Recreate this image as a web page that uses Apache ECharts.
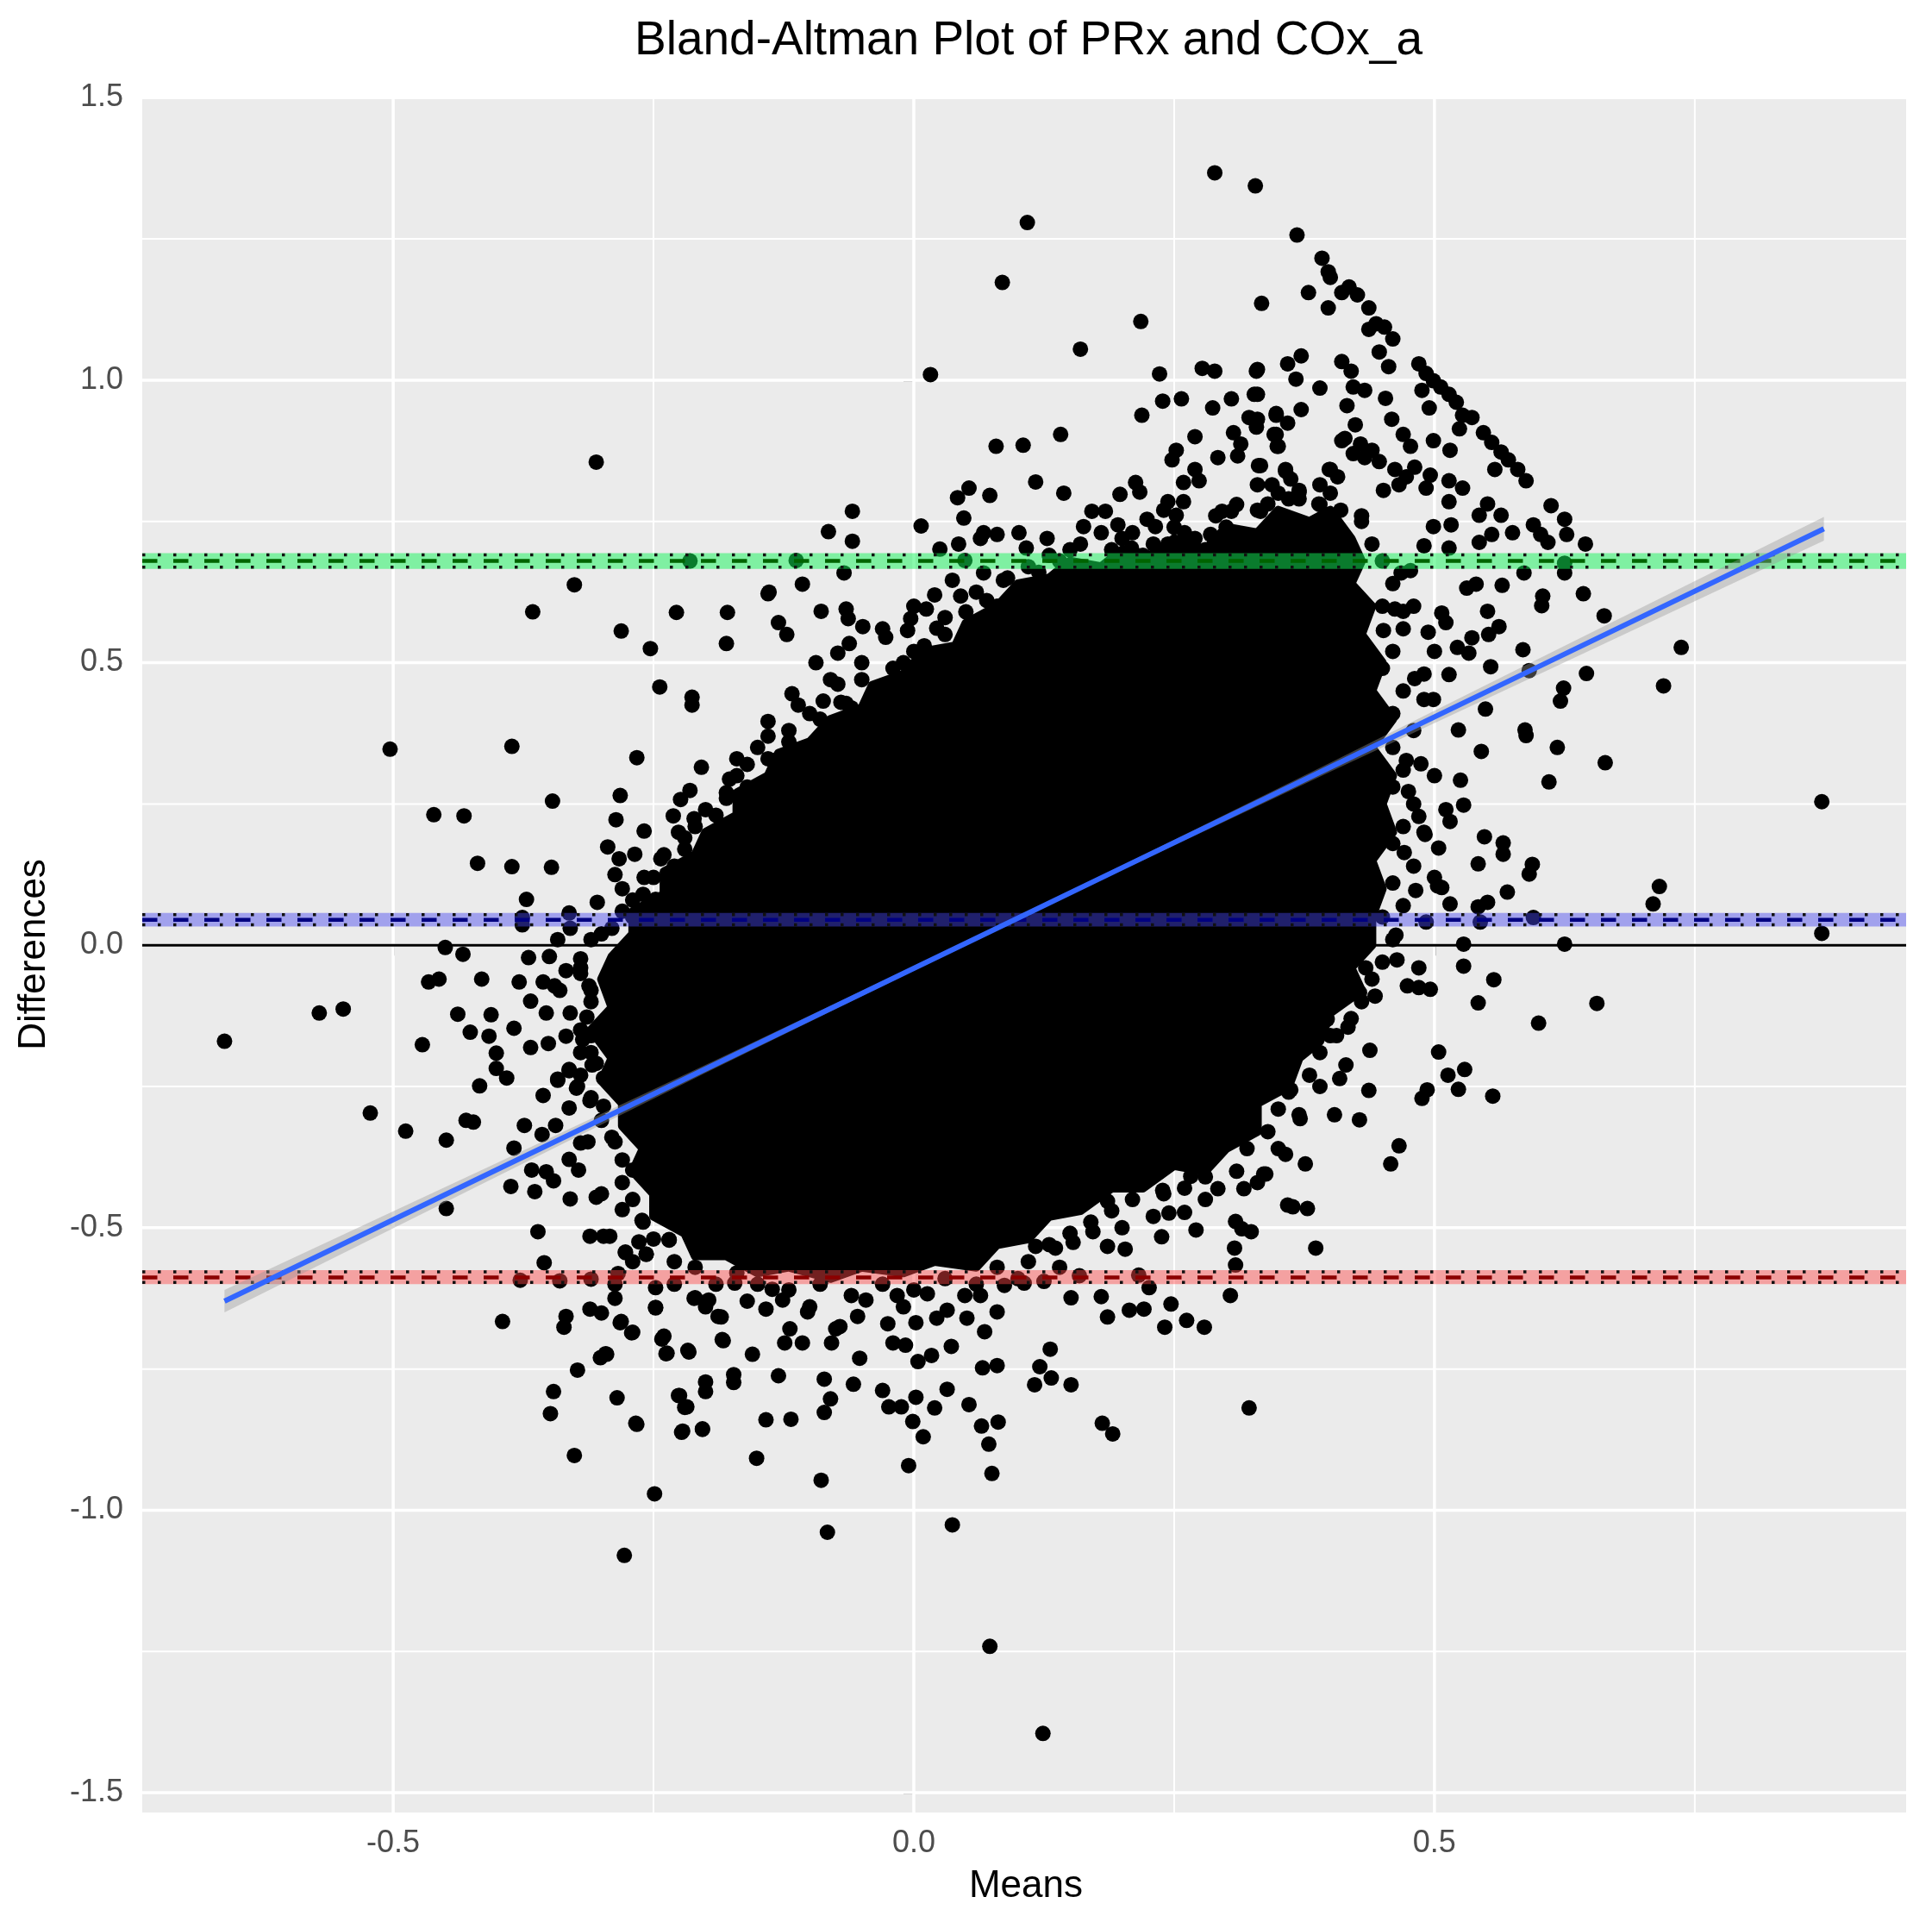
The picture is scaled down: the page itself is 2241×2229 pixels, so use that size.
<!DOCTYPE html>
<html>
<head>
<meta charset="utf-8">
<script src="https://cdn.jsdelivr.net/npm/echarts@6/dist/echarts.min.js"></script>
<style>
html,body{margin:0;padding:0;background:#fff;}
#chart{width:2241px;height:2229px;}
</style>
</head>
<body>
<div id="chart"></div>
<script>
// ---------------- data ----------------
const titleText = 'Bland-Altman Plot of PRx and COx_a';
const xName = 'Means';
const yName = 'Differences';

const xRange = [-0.741, 0.953];
const yRange = [-1.535, 1.502];
const xTicks = [-0.5, 0, 0.5];
const xMinorTicks = [-0.25, 0.25, 0.75];
const yTicks = [-1.5, -1, -0.5, 0, 0.5, 1, 1.5];
const yMinorTicks = [-1.25, -0.75, -0.25, 0.25, 0.75, 1.25];

// limits of agreement (upper, mean, lower) with their confidence bands
const bandCenter = [0.680, 0.045, -0.588];
const bandLow = [0.666, 0.033, -0.600];
const bandHigh = [0.694, 0.057, -0.575];

// regression of differences on means, with confidence ribbon
const regMeans = [-0.662, -0.40, -0.20, 0, 0.10, 0.20, 0.40, 0.60, 0.874];
const regFit = [-0.630, -0.397, -0.219, -0.041, 0.048, 0.137, 0.315, 0.493, 0.737];
const regLower = [-0.650, -0.409, -0.226, -0.045, 0.0445, 0.133, 0.307, 0.479, 0.716];
const regUpper = [-0.610, -0.385, -0.212, -0.037, 0.0515, 0.141, 0.323, 0.507, 0.758];

// ragged outline of the fully overplotted (solid black) centre of the cloud
const denseCloudOutline = [[0.08,0.60],[0.10,0.64],[0.13,0.65],[0.15,0.68],[0.18,0.67],[0.20,0.70],[0.23,0.69],[0.25,0.72],[0.28,0.70],[0.30,0.74],[0.33,0.73],[0.35,0.77],[0.38,0.75],[0.40,0.77],[0.42,0.72],[0.43,0.68],[0.42,0.64],[0.44,0.60],[0.43,0.55],[0.45,0.50],[0.44,0.45],[0.46,0.40],[0.44,0.35],[0.46,0.30],[0.45,0.25],[0.46,0.20],[0.44,0.15],[0.45,0.10],[0.44,0.05],[0.44,0.00],[0.42,-0.04],[0.43,-0.08],[0.40,-0.12],[0.39,-0.17],[0.37,-0.20],[0.36,-0.25],[0.33,-0.28],[0.33,-0.33],[0.30,-0.36],[0.28,-0.40],[0.25,-0.39],[0.22,-0.43],[0.19,-0.43],[0.16,-0.47],[0.13,-0.48],[0.11,-0.52],[0.08,-0.53],[0.06,-0.57],[0.02,-0.56],[-0.01,-0.58],[-0.05,-0.57],[-0.08,-0.59],[-0.12,-0.57],[-0.15,-0.58],[-0.18,-0.55],[-0.21,-0.55],[-0.22,-0.51],[-0.25,-0.48],[-0.25,-0.44],[-0.27,-0.40],[-0.26,-0.36],[-0.28,-0.32],[-0.28,-0.28],[-0.30,-0.24],[-0.29,-0.20],[-0.31,-0.15],[-0.29,-0.11],[-0.30,-0.06],[-0.29,-0.02],[-0.27,0.02],[-0.27,0.06],[-0.24,0.09],[-0.24,0.13],[-0.21,0.16],[-0.20,0.20],[-0.17,0.23],[-0.17,0.27],[-0.14,0.30],[-0.13,0.34],[-0.10,0.36],[-0.08,0.40],[-0.05,0.42],[-0.04,0.46],[-0.01,0.48],[0.01,0.52],[0.04,0.53],[0.05,0.57]];

// individual points [mean, difference]
const ptsLeft = [[-0.326,0.638],[-0.366,0.590],[-0.228,0.589],[-0.179,0.589],[-0.281,0.556],[-0.253,0.525],[-0.180,0.534],[-0.244,0.457],[-0.213,0.439],[-0.213,0.425],[-0.503,0.347],[-0.386,0.352],[-0.266,0.332],[-0.204,0.315],[-0.177,0.294],[-0.347,0.255],[-0.461,0.231],[-0.432,0.229],[-0.282,0.265],[-0.224,0.258],[-0.215,0.274],[-0.286,0.222],[-0.231,0.229],[-0.211,0.224],[-0.259,0.202],[-0.226,0.200],[-0.294,0.174],[-0.283,0.153],[-0.268,0.161],[-0.243,0.153],[-0.287,0.125],[-0.259,0.120],[-0.231,0.125],[-0.210,0.110],[-0.197,0.180],[-0.419,0.145],[-0.386,0.139],[-0.348,0.138],[-0.372,0.081],[-0.304,0.076],[-0.248,0.081],[-0.331,0.057],[-0.376,0.049],[-0.376,0.036],[-0.342,0.010],[-0.450,-0.004],[-0.433,-0.016],[-0.370,-0.022],[-0.466,-0.065],[-0.456,-0.060],[-0.415,-0.060],[-0.571,-0.120],[-0.548,-0.113],[-0.662,-0.170],[-0.472,-0.176],[-0.438,-0.122],[-0.426,-0.154],[-0.406,-0.123],[-0.408,-0.161],[-0.384,-0.147],[-0.379,-0.065],[-0.368,-0.099],[-0.356,-0.065],[-0.345,-0.072],[-0.353,-0.120],[-0.368,-0.181],[-0.351,-0.174],[-0.334,-0.161],[-0.318,-0.167],[-0.314,-0.127],[-0.334,-0.045],[-0.320,-0.024],[-0.312,-0.072],[-0.401,-0.191],[-0.401,-0.218],[-0.391,-0.235],[-0.417,-0.249],[-0.356,-0.266],[-0.342,-0.239],[-0.331,-0.220],[-0.324,-0.253],[-0.309,-0.212],[-0.298,-0.235],[-0.305,0.855],[-0.215,0.680],[-0.113,0.681],[-0.140,0.622],[-0.27,0.05],[-0.26,0.09],[-0.24,0.16],[-0.22,0.19],[-0.20,0.24],[-0.18,0.27],[-0.17,0.33],[-0.29,0.03],[-0.31,0.01],[-0.32,-0.05],[-0.31,-0.10],[-0.32,-0.15],[-0.31,-0.19],[-0.28,0.10],[-0.235,0.05],[-0.19,0.14]];

const ptsLowerLeft = [[-0.522,-0.297],[-0.488,-0.329],[-0.449,-0.345],[-0.430,-0.310],[-0.423,-0.313],[-0.374,-0.319],[-0.384,-0.359],[-0.357,-0.335],[-0.344,-0.319],[-0.331,-0.288],[-0.323,-0.250],[-0.331,-0.222],[-0.342,-0.237],[-0.311,-0.275],[-0.305,-0.209],[-0.367,-0.398],[-0.353,-0.401],[-0.346,-0.417],[-0.387,-0.427],[-0.364,-0.436],[-0.331,-0.379],[-0.322,-0.398],[-0.313,-0.348],[-0.330,-0.449],[-0.305,-0.446],[-0.449,-0.466],[-0.361,-0.507],[-0.311,-0.515],[-0.298,-0.515],[-0.280,-0.468],[-0.261,-0.487],[-0.270,-0.398],[-0.287,-0.348],[-0.298,-0.285],[-0.277,-0.543],[-0.257,-0.547],[-0.264,-0.525],[-0.355,-0.562],[-0.235,-0.521],[-0.246,-0.436],[-0.240,-0.367],[-0.195,-0.537],[-0.378,-0.593],[-0.340,-0.594],[-0.310,-0.591],[-0.287,-0.600],[-0.284,-0.581],[-0.395,-0.666],[-0.334,-0.657],[-0.336,-0.676],[-0.311,-0.644],[-0.300,-0.651],[-0.281,-0.666],[-0.270,-0.685],[-0.248,-0.641],[-0.287,-0.625],[-0.240,-0.692],[-0.238,-0.723],[-0.230,-0.600],[-0.211,-0.625],[-0.217,-0.717],[-0.188,-0.657],[-0.184,-0.698],[-0.301,-0.730],[-0.296,-0.723],[-0.323,-0.752],[-0.173,-0.774],[-0.200,-0.790],[-0.346,-0.790],[-0.349,-0.829],[-0.285,-0.801],[-0.226,-0.797],[-0.220,-0.818],[-0.267,-0.846],[-0.222,-0.860],[-0.203,-0.856],[-0.326,-0.903],[-0.249,-0.971],[-0.278,-1.080]];

const ptsBottom = [[-0.151,-0.908],[-0.089,-0.947],[-0.083,-1.039],[-0.005,-0.921],[0.037,-1.026],[0.075,-0.935],[0.073,-1.241],[0.124,-1.395],[0.322,-0.819],[0.181,-0.846],[0.191,-0.865],[0.072,-0.883],[0.065,-0.851],[0.081,-0.844],[0.009,-0.870],[-0.001,-0.843],[-0.024,-0.817],[-0.012,-0.817],[0.002,-0.800],[0.020,-0.819],[0.032,-0.786],[0.053,-0.813],[-0.030,-0.788],[-0.058,-0.777],[-0.086,-0.768],[-0.080,-0.803],[-0.086,-0.827],[-0.118,-0.839],[-0.142,-0.840],[-0.130,-0.762],[-0.173,-0.760],[-0.200,-0.773],[-0.225,-0.797],[-0.218,-0.817],[-0.223,-0.862],[-0.203,-0.857],[-0.266,-0.848],[-0.155,-0.724],[-0.183,-0.700],[-0.216,-0.720],[-0.237,-0.722],[-0.242,-0.697],[-0.271,-0.686],[-0.282,-0.668],[-0.295,-0.724],[-0.248,-0.642],[-0.185,-0.658],[-0.142,-0.644],[-0.124,-0.704],[-0.107,-0.704],[-0.119,-0.679],[-0.079,-0.704],[-0.075,-0.679],[-0.052,-0.731],[-0.025,-0.670],[-0.020,-0.704],[-0.008,-0.708],[0.002,-0.668],[0.004,-0.737],[0.017,-0.726],[0.036,-0.710],[0.022,-0.660],[0.032,-0.646],[0.051,-0.660],[0.068,-0.684],[0.080,-0.649],[0.066,-0.748],[0.080,-0.744],[0.116,-0.778],[0.121,-0.746],[0.132,-0.766],[0.131,-0.715],[0.151,-0.778],[0.151,-0.624],[0.180,-0.622],[0.186,-0.658],[0.207,-0.646],[0.221,-0.644],[0.241,-0.676],[0.247,-0.635],[0.262,-0.664],[0.279,-0.676],[0.304,-0.620],[0.226,-0.606],[0.125,-0.595],[0.159,-0.585],[0.216,-0.584],[0.309,-0.566],[0.308,-0.536],[0.238,-0.516],[0.245,-0.474],[0.260,-0.473],[0.271,-0.504],[0.315,-0.502],[0.317,-0.431],[0.239,-0.434],[0.336,-0.405],[0.359,-0.460],[0.186,-0.533],[0.203,-0.538],[0.153,-0.526],[0.136,-0.536],[0.117,-0.533],[0.172,-0.507],[0.186,-0.453],[0.165,-0.431],[0.191,-0.409],[0.235,-0.402],[0.266,-0.409],[0.292,-0.431],[0.309,-0.489],[0.207,-0.394],[0.049,-0.620],[0.064,-0.620],[0.087,-0.602],[0.106,-0.598],[-0.235,-0.522],[-0.257,-0.547],[-0.277,-0.544],[-0.292,-0.515],[-0.248,-0.606],[-0.197,-0.628],[-0.210,-0.624],[-0.172,-0.598],[-0.136,-0.609],[-0.126,-0.628],[-0.102,-0.649],[-0.071,-0.675],[-0.054,-0.657],[-0.046,-0.628],[-0.016,-0.620],[0.013,-0.617]];

const ptsRight = [[0.872,0.254],[0.872,0.021],[0.716,0.104],[0.710,0.073],[0.664,0.323],[0.618,0.350],[0.610,0.289],[0.588,0.371],[0.545,0.343],[0.525,0.292],[0.528,0.248],[0.548,0.192],[0.566,0.181],[0.566,0.161],[0.542,0.144],[0.594,0.143],[0.591,0.126],[0.570,0.094],[0.551,0.076],[0.542,0.068],[0.515,0.073],[0.507,0.102],[0.595,0.049],[0.544,0.041],[0.492,0.041],[0.625,0.002],[0.528,0.002],[0.528,-0.037],[0.557,-0.061],[0.542,-0.102],[0.656,-0.103],[0.600,-0.138],[0.504,-0.189],[0.529,-0.220],[0.513,-0.230],[0.523,-0.255],[0.556,-0.267],[0.493,-0.256],[0.488,-0.271],[0.466,-0.355],[0.458,-0.387],[0.437,-0.257],[0.438,-0.186],[0.428,-0.309],[0.404,-0.300],[0.371,-0.307],[0.376,-0.387],[0.357,-0.370],[0.338,-0.405],[0.364,-0.463],[0.378,-0.466],[0.386,-0.536],[0.324,-0.507],[0.329,-0.271],[0.362,-0.256],[0.409,-0.236],[0.415,-0.212],[0.428,-0.084],[0.443,-0.090],[0.464,-0.026],[0.463,0.018],[0.485,-0.040],[0.496,-0.078],[0.485,-0.075],[0.397,-0.131],[0.417,-0.145],[0.406,-0.160],[0.474,-0.072],[0.434,-0.040],[0.491,0.196],[0.504,0.172],[0.503,0.105],[0.511,0.240],[0.515,0.219],[0.485,0.228],[0.482,0.097],[0.471,0.164],[0.487,0.321],[0.473,0.327],[0.475,0.272]];

const ptsUpperRight = [[0.328,1.344],[0.368,1.257],[0.392,1.216],[0.398,1.192],[0.400,1.182],[0.379,1.155],[0.334,1.136],[0.411,1.155],[0.418,1.165],[0.426,1.151],[0.398,1.128],[0.437,1.128],[0.444,1.100],[0.437,1.090],[0.452,1.094],[0.460,1.073],[0.447,1.050],[0.456,1.024],[0.485,1.029],[0.492,1.012],[0.499,0.999],[0.506,0.988],[0.514,0.975],[0.521,0.961],[0.488,0.982],[0.495,0.951],[0.527,0.938],[0.536,0.934],[0.524,0.914],[0.547,0.907],[0.555,0.890],[0.564,0.873],[0.571,0.859],[0.580,0.842],[0.588,0.822],[0.558,0.842],[0.330,1.019],[0.359,1.029],[0.372,1.043],[0.367,1.002],[0.390,0.986],[0.411,1.033],[0.420,1.016],[0.422,0.988],[0.433,0.982],[0.453,0.968],[0.416,0.955],[0.459,0.931],[0.330,0.975],[0.330,0.931],[0.348,0.938],[0.372,0.948],[0.359,0.924],[0.346,0.904],[0.350,0.883],[0.424,0.921],[0.411,0.893],[0.470,0.904],[0.477,0.883],[0.499,0.893],[0.515,0.876],[0.429,0.887],[0.440,0.876],[0.447,0.856],[0.433,0.863],[0.422,0.870],[0.333,0.849],[0.357,0.842],[0.400,0.842],[0.407,0.829],[0.462,0.842],[0.473,0.829],[0.481,0.846],[0.496,0.832],[0.514,0.822],[0.527,0.809],[0.492,0.809],[0.330,0.815],[0.344,0.815],[0.370,0.805],[0.390,0.815],[0.451,0.805],[0.466,0.815],[0.514,0.785],[0.551,0.781],[0.543,0.761],[0.564,0.761],[0.612,0.778],[0.625,0.754],[0.627,0.727],[0.595,0.744],[0.602,0.727],[0.609,0.713],[0.575,0.730],[0.555,0.727],[0.543,0.713],[0.516,0.744],[0.499,0.741],[0.490,0.707],[0.514,0.703],[0.645,0.710],[0.625,0.659],[0.625,0.676],[0.586,0.659],[0.565,0.637],[0.540,0.639],[0.531,0.632],[0.643,0.622],[0.604,0.618],[0.603,0.601],[0.663,0.583],[0.551,0.591],[0.507,0.588],[0.511,0.571],[0.494,0.554],[0.562,0.564],[0.552,0.550],[0.536,0.544],[0.522,0.527],[0.533,0.517],[0.585,0.523],[0.554,0.493],[0.737,0.527],[0.720,0.459],[0.646,0.481],[0.624,0.455],[0.621,0.432],[0.591,0.486],[0.549,0.418],[0.587,0.381],[0.514,0.479],[0.481,0.472],[0.490,0.435],[0.499,0.435],[0.523,0.381],[0.462,0.595],[0.470,0.591],[0.451,0.557],[0.477,0.663],[0.468,0.659],[0.437,0.418],[0.419,0.462]];

const ptsUpper = [[0.289,1.367],[0.109,1.279],[0.085,1.173],[0.218,1.104],[0.160,1.055],[0.016,1.010],[0.236,1.011],[0.277,1.021],[0.289,1.016],[0.329,1.016],[0.239,0.963],[0.257,0.967],[0.219,0.938],[0.287,0.951],[0.305,0.967],[0.327,0.975],[0.322,0.934],[0.329,0.917],[0.348,0.941],[0.141,0.904],[0.079,0.883],[0.105,0.885],[0.117,0.820],[0.144,0.800],[0.270,0.900],[0.252,0.876],[0.248,0.859],[0.307,0.907],[0.314,0.887],[0.311,0.866],[0.292,0.863],[0.270,0.842],[0.274,0.822],[0.259,0.819],[0.348,0.904],[0.349,0.883],[0.331,0.849],[0.357,0.839],[0.362,0.825],[0.370,0.802],[0.399,0.842],[0.414,0.897],[0.213,0.819],[0.217,0.802],[0.198,0.798],[0.244,0.785],[0.259,0.785],[0.252,0.761],[0.296,0.768],[0.305,0.768],[0.333,0.768],[0.340,0.781],[0.389,0.781],[0.042,0.792],[0.053,0.809],[0.073,0.796],[0.048,0.756],[0.007,0.742],[-0.059,0.768],[-0.082,0.732],[-0.059,0.715],[-0.067,0.659],[-0.107,0.639],[-0.139,0.625],[0.025,0.701],[0.043,0.710],[0.049,0.681],[0.067,0.730],[0.080,0.727],[0.101,0.730],[0.128,0.720],[0.108,0.703],[0.064,0.720],[0.171,0.768],[0.184,0.768],[0.196,0.744],[0.224,0.754],[0.232,0.741],[0.163,0.741],[0.209,0.703],[0.244,0.710],[0.285,0.727],[0.326,0.717],[0.037,0.646],[0.045,0.618],[0.060,0.625],[0.067,0.659],[0.086,0.646],[0.141,0.618],[0.161,0.666],[0.174,0.642],[-0.089,0.591],[-0.065,0.595],[-0.063,0.578],[-0.130,0.571],[-0.122,0.550],[-0.049,0.564],[-0.027,0.545],[-0.094,0.500],[-0.073,0.517],[-0.062,0.534],[-0.117,0.445],[-0.111,0.425],[-0.087,0.432],[-0.140,0.396],[-0.065,0.428],[-0.073,0.462],[-0.003,0.578],[0.012,0.595],[0.022,0.561],[-0.006,0.557],[-0.010,0.500],[-0.14,0.37],[-0.12,0.38],[-0.09,0.40],[-0.06,0.42],[-0.04,0.40],[-0.08,0.47],[-0.05,0.50],[0.00,0.52],[0.02,0.50],[-0.03,0.56],[0.02,0.62],[0.00,0.60],[0.03,0.58],[0.08,0.60],[0.12,0.66],[0.15,0.70],[0.20,0.72],[0.26,0.73],[0.30,0.74],[0.36,0.79],[0.40,0.80],[0.43,0.76]];

// densely packed points hugging the edge of the solid centre
const ptsCloudEdge = [[-0.12,0.36],[-0.10,0.41],[-0.07,0.43],[-0.05,0.47],[-0.02,0.49],[0.01,0.53],[0.03,0.55],[0.05,0.59],[0.07,0.61],[0.09,0.65],[-0.08,0.36],[-0.04,0.44],[0.00,0.48],[0.04,0.52],[0.06,0.57],[0.11,0.67],[0.13,0.69],[-0.13,0.33],[-0.16,0.32],[-0.15,0.35],
[0.14,0.68],[0.16,0.71],[0.19,0.70],[0.21,0.73],[0.23,0.71],[0.25,0.74],[0.27,0.72],[0.29,0.76],[0.31,0.78],[0.33,0.77],[0.35,0.80],[0.37,0.79],[0.39,0.78],[0.41,0.77],[0.43,0.75],[0.44,0.71],[0.22,0.69],[0.28,0.70],[0.18,0.73],[0.24,0.77],
[0.45,0.68],[0.46,0.64],[0.45,0.60],[0.47,0.56],[0.46,0.52],[0.45,0.49],[0.47,0.45],[0.46,0.41],[0.48,0.38],[0.46,0.35],[0.47,0.31],[0.46,0.28],[0.48,0.25],[0.47,0.21],[0.46,0.18],[0.48,0.14],[0.46,0.11],[0.47,0.07],[0.45,0.05],[0.46,0.01],[0.45,-0.03],[0.44,-0.06],[0.43,-0.10],[0.42,-0.13],[0.50,0.30],[0.49,0.20],[0.50,0.12],[0.49,0.48],[0.48,0.60],[0.50,0.52],
[0.40,-0.16],[0.39,-0.19],[0.38,-0.23],[0.36,-0.26],[0.35,-0.29],[0.34,-0.33],[0.32,-0.36],[0.31,-0.40],[0.28,-0.41],[0.26,-0.43],[0.24,-0.44],[0.21,-0.45],[0.19,-0.47],[0.17,-0.49],[0.15,-0.51],[0.13,-0.53],[0.11,-0.56],[0.39,-0.25],[0.37,-0.30],[0.35,-0.36],[0.33,-0.42],[0.28,-0.45],[0.23,-0.48],[0.20,-0.50],[0.14,-0.57],
[0.08,-0.57],[0.06,-0.60],[0.03,-0.59],[0.00,-0.61],[-0.03,-0.60],[-0.06,-0.62],[-0.09,-0.60],[-0.12,-0.61],[-0.15,-0.60],[-0.17,-0.58],[-0.19,-0.60],[-0.21,-0.57],[-0.23,-0.56],[0.10,-0.59],[-0.01,-0.64],[-0.10,-0.64],[-0.16,-0.63],[-0.20,-0.64],
[-0.25,-0.52],[-0.26,-0.49],[-0.27,-0.45],[-0.28,-0.42],[-0.28,-0.38],[-0.29,-0.34],[-0.30,-0.31],[-0.31,-0.27],[-0.32,-0.23],[-0.30,-0.44],[-0.32,-0.35],[-0.27,-0.56],
[-0.32,-0.19],[-0.31,-0.16],[-0.33,-0.12],[-0.31,-0.08],[-0.32,-0.04],[-0.30,0.02],[-0.28,0.06],[-0.27,0.08],[-0.25,0.12],[-0.23,0.14],[-0.22,0.17],[-0.21,0.21],[-0.19,0.23],[-0.18,0.26],[-0.16,0.28],[-0.17,0.30],[-0.14,0.33],[-0.34,-0.08],[-0.35,-0.02],[-0.33,0.03]];

// ---------------- chart ----------------
const allPoints = [].concat(ptsLeft, ptsLowerLeft, ptsBottom, ptsRight, ptsUpperRight, ptsUpper, ptsCloudEdge);
const FONT = '"Liberation Sans", Arial, Helvetica, sans-serif';
const bandFill = ['rgba(20,245,90,0.5)', 'rgba(70,70,240,0.45)', 'rgba(255,70,70,0.45)'];
const bandLine = ['#006400', '#000080', '#8B0000'];

const chart = echarts.init(document.getElementById('chart'), null, {renderer: 'canvas', width: 2241, height: 2229});

function hLineSeries(name, values, z, width, color) {
  return {
    type: 'custom', name, z, silent: true, clip: true,
    data: values.map(v => [0, v]),
    renderItem: (params, api) => {
      const y = api.value(1);
      const a = api.coord([xRange[0], y]);
      const b = api.coord([xRange[1], y]);
      return {type: 'line', shape: {x1: a[0], y1: a[1], x2: b[0], y2: b[1]}, style: {stroke: color, lineWidth: width}};
    }
  };
}
function vLineSeries(name, values, z, width, color) {
  return {
    type: 'custom', name, z, silent: true, clip: true,
    data: values.map(v => [v, 0]),
    renderItem: (params, api) => {
      const x = api.value(0);
      const a = api.coord([x, yRange[0]]);
      const b = api.coord([x, yRange[1]]);
      return {type: 'line', shape: {x1: a[0], y1: a[1], x2: b[0], y2: b[1]}, style: {stroke: color, lineWidth: width}};
    }
  };
}

const baseGraphic = [
  {type: 'text', x: 1193, y: 48, style: {text: titleText, font: '55px ' + FONT, fill: '#000', textAlign: 'center', textVerticalAlign: 'middle', verticalAlign: 'middle'}},
  {type: 'text', x: 1190, y: 2188, style: {text: xName, font: '44px ' + FONT, fill: '#000', textAlign: 'center', textVerticalAlign: 'middle', verticalAlign: 'middle'}},
  {type: 'text', x: 40, y: 1107, rotation: Math.PI / 2, style: {text: yName, font: '44px ' + FONT, fill: '#000', textAlign: 'center', textVerticalAlign: 'middle', verticalAlign: 'middle'}}
];

const option = {
  animation: false,
  backgroundColor: '#ffffff',
  grid: {left: 165, right: 30, top: 112, bottom: 127, show: true, backgroundColor: '#EBEBEB', borderWidth: 0},
  xAxis: {
    type: 'value', min: xRange[0], max: xRange[1],
    axisLine: {show: false},
    axisTick: {show: true, customValues: xTicks, length: 12, lineStyle: {color: '#333333', width: 2.5}},
    axisLabel: {show: false},
    splitLine: {show: false}
  },
  yAxis: {
    type: 'value', min: yRange[0], max: yRange[1],
    axisLine: {show: false},
    axisTick: {show: true, customValues: yTicks, length: 12, lineStyle: {color: '#333333', width: 2.5}},
    axisLabel: {customValues: yTicks, formatter: v => Number(v).toFixed(1), fontSize: 36, color: '#4D4D4D', margin: 22, align: 'right', verticalAlign: 'middle', fontFamily: FONT},
    splitLine: {show: false}
  },
  graphic: baseGraphic,
  series: [
    hLineSeries('yMinor', yMinorTicks, 1, 2, '#FFFFFF'),
    vLineSeries('xMinor', xMinorTicks, 1, 2, '#FFFFFF'),
    hLineSeries('yMajor', yTicks, 1, 3.5, '#FFFFFF'),
    vLineSeries('xMajor', xTicks, 1, 3.5, '#FFFFFF'),
    {
      type: 'custom', name: 'denseCloud', z: 2, silent: true,
      data: [[0, 0]],
      renderItem: (params, api) => ({
        type: 'polygon',
        shape: {points: denseCloudOutline.map(p => api.coord(p))},
        style: {fill: '#000', stroke: '#000', lineWidth: 10, lineJoin: 'round'}
      })
    },
    {
      type: 'scatter', name: 'points', z: 2, silent: true,
      symbol: 'circle', symbolSize: 18,
      itemStyle: {color: '#000000', opacity: 1},
      data: allPoints
    },
    hLineSeries('zero', [0], 3, 3, '#000000'),
    {
      type: 'custom', name: 'limits', z: 4, silent: true,
      data: bandCenter.map((c, i) => [bandLow[i], c, bandHigh[i]]),
      renderItem: (params, api) => {
        const i = params.dataIndex;
        const lo = api.value(0), c = api.value(1), hi = api.value(2);
        const tl = api.coord([xRange[0], hi]);
        const br = api.coord([xRange[1], lo]);
        const cl = api.coord([xRange[0], c]);
        const cr = api.coord([xRange[1], c]);
        return {
          type: 'group',
          children: [
            {type: 'rect', shape: {x: tl[0], y: tl[1], width: br[0] - tl[0], height: br[1] - tl[1]}, style: {fill: bandFill[i]}},
            {type: 'line', shape: {x1: cl[0], y1: cl[1], x2: cr[0], y2: cr[1]}, style: {stroke: bandLine[i], lineWidth: 4.5, lineDash: [17.5, 18.5]}},
            {type: 'line', shape: {x1: tl[0], y1: tl[1] + 2, x2: br[0], y2: tl[1] + 2}, style: {stroke: '#111111', lineWidth: 3.5, lineDash: [3.5, 14.5]}},
            {type: 'line', shape: {x1: tl[0], y1: br[1] - 2, x2: br[0], y2: br[1] - 2}, style: {stroke: '#111111', lineWidth: 3.5, lineDash: [3.5, 14.5]}}
          ]
        };
      }
    },
    {
      type: 'custom', name: 'regressionCI', z: 5, silent: true,
      data: [[0, 0]],
      renderItem: (params, api) => {
        const upper = regMeans.map((x, i) => api.coord([x, regUpper[i]]));
        const lower = regMeans.map((x, i) => api.coord([x, regLower[i]])).reverse();
        return {type: 'polygon', shape: {points: upper.concat(lower)}, style: {fill: 'rgba(153,153,153,0.4)'}};
      }
    },
    {
      type: 'line', name: 'regression', z: 6, silent: true,
      symbol: 'none', lineStyle: {color: '#3366FF', width: 6},
      data: regMeans.map((x, i) => [x, regFit[i]])
    }
  ]
};
chart.setOption(option);

// x tick labels placed through the x axis scale, centred 36px below the panel
const panelBottom = chart.convertToPixel({yAxisIndex: 0}, yRange[0]);
const xLabelGraphic = xTicks.map(v => ({
  type: 'text',
  x: chart.convertToPixel({xAxisIndex: 0}, v),
  y: panelBottom + 36,
  style: {text: v.toFixed(1), font: '36px ' + FONT, fill: '#4D4D4D', textAlign: 'center', textVerticalAlign: 'middle', verticalAlign: 'middle'}
}));
chart.setOption({graphic: baseGraphic.concat(xLabelGraphic)});
</script>
</body>
</html>
